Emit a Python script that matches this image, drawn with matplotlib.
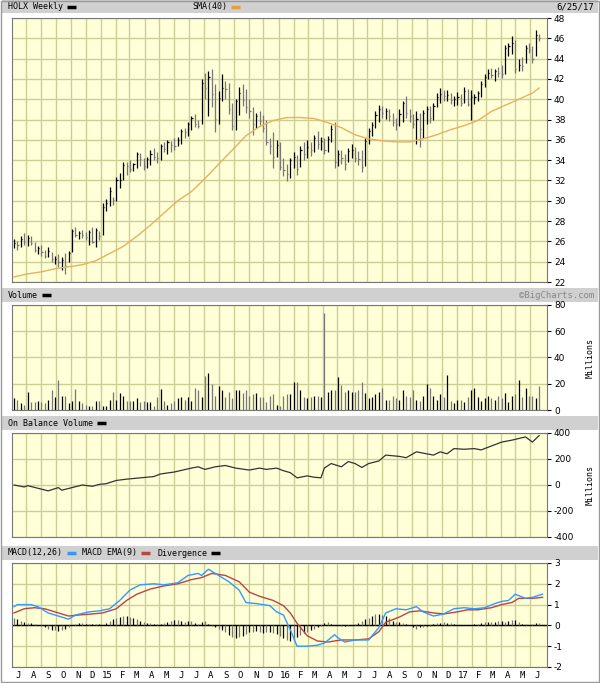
import numpy as np
import pandas as pd
import matplotlib.pyplot as plt

# weekly bars, week 0 = 2014-07-07
price_hlc = [
    (26.2,25.3,25.8),(26.0,25.2,25.6),(26.5,25.4,26.2),(26.8,25.6,25.9),
    (26.6,25.5,26.3),(26.5,25.6,25.8),(25.9,25.0,25.2),(25.5,24.8,25.3),
    (25.6,24.6,25.0),(25.2,24.4,24.6),(25.4,24.5,25.1),(25.0,24.0,24.3),(24.6,23.8,24.3),
    (24.8,23.5,24.0),(24.5,23.2,24.2),(24.9,22.8,23.6),(25.1,24.0,24.9),
    (27.2,25.0,27.0),(27.4,26.4,26.6),(27.0,26.2,26.8),(27.1,26.3,26.6),
    (26.9,26.1,26.4),(27.1,25.6,26.9),(27.4,25.8,25.9),(27.3,25.4,27.1),(27.0,26.1,26.5),
    (29.8,26.6,29.4),(30.2,29.0,29.8),(31.4,29.5,31.0),(30.4,29.6,30.1),
    (32.3,30.0,32.0),(32.7,31.3,32.0),(33.8,32.0,33.5),(33.8,32.5,33.4),
    (34.0,32.8,33.1),(33.7,32.9,33.6),(34.8,33.2,34.6),(34.7,33.4,34.1),(34.2,33.0,33.4),
    (34.3,33.2,34.1),(35.0,33.5,34.6),(35.2,34.0,34.3),(34.8,33.7,34.2),
    (35.6,34.0,35.4),(35.8,34.8,35.1),(36.0,34.6,35.8),(35.9,34.8,35.5),
    (36.2,35.0,35.4),(36.3,35.4,36.0),(37.1,35.6,36.9),(37.2,36.2,36.8),(37.8,36.4,37.6),
    (38.3,37.0,38.2),(38.5,37.3,37.6),(38.0,37.2,37.4),(42.0,37.6,41.6),
    (42.6,40.0,41.1),(42.8,38.3,42.2),(43.0,39.2,40.5),(41.5,36.8,38.1),(40.8,37.6,40.1),
    (42.5,39.8,41.1),(41.8,40.0,41.0),(41.6,38.5,39.0),(39.6,37.0,37.4),
    (40.0,37.0,39.8),(41.2,38.4,40.6),(41.5,39.3,39.9),(41.0,38.6,39.2),
    (40.0,38.2,38.8),(39.2,36.5,37.6),(38.6,37.2,38.3),(38.8,37.5,37.9),(38.4,36.8,37.2),
    (38.0,35.5,35.8),(36.2,34.6,35.4),(36.8,33.2,34.3),(36.0,34.3,35.5),
    (35.8,33.0,33.3),(34.2,32.4,33.0),(33.6,31.9,32.6),(34.2,32.2,34.0),
    (34.8,33.2,34.3),(34.5,32.5,33.1),(35.4,33.3,35.0),(35.8,34.0,34.6),(36.0,34.2,35.3),
    (35.8,34.4,35.0),(36.5,34.8,36.2),(36.9,35.1,35.6),(36.3,35.0,35.9),
    (36.2,34.6,35.0),(36.4,34.8,36.1),(37.5,35.8,37.1),(37.8,33.2,33.8),
    (35.0,33.4,34.6),(35.0,33.6,34.2),(34.6,33.0,33.6),(35.2,33.8,34.9),(35.6,34.2,35.0),
    (35.3,33.8,34.2),(34.9,33.5,34.1),(35.0,32.8,33.3),(36.2,33.4,35.9),
    (37.2,35.6,36.9),(37.8,36.4,37.5),(38.8,37.2,38.4),(39.4,37.8,39.0),
    (39.3,38.2,38.6),(39.1,38.1,38.8),(39.0,37.9,38.3),(38.6,37.4,37.8),(38.2,37.0,37.6),
    (39.0,37.4,38.5),(39.8,37.8,39.6),(40.3,38.2,38.6),(39.0,37.8,38.3),
    (38.5,37.2,37.6),(38.8,35.6,38.1),(38.6,35.3,37.1),(38.9,36.2,38.6),(39.3,37.6,39.0),
    (39.3,37.7,38.2),(39.6,38.0,39.3),(40.6,39.2,40.2),(41.1,39.6,40.5),
    (40.9,39.8,40.3),(40.9,39.8,40.4),(40.6,39.5,39.9),(40.3,39.3,40.0),
    (40.7,39.4,40.2),(40.5,39.3,39.6),(41.2,39.6,40.8),(41.0,39.3,39.5),(40.9,38.0,40.2),
    (40.5,39.5,40.2),(40.8,39.8,40.6),(41.8,40.2,41.5),(42.5,41.2,42.2),
    (43.0,42.0,42.6),(43.1,42.1,42.4),(43.0,41.8,42.8),(43.2,42.2,42.6),
    (43.4,42.1,42.5),(45.3,42.5,45.0),(45.5,44.3,45.2),(46.2,44.5,45.5),
    (45.8,42.6,43.0),(44.0,42.8,43.4),(44.2,42.8,43.3),(45.3,43.6,45.0),(45.5,44.6,44.8),
    (45.2,43.6,44.0),(46.8,44.3,46.3),(46.4,45.7,46.0),
]

sma_weeks = [0,4,8,12,16,20,24,28,32,36,40,44,48,52,56,60,64,68,72,76,80,84,88,92,
             96,100,104,108,112,116,120,124,128,132,136,140,144,148,152,154]
sma_vals = [22.5,22.8,23.0,23.3,23.5,23.7,24.1,24.8,25.5,26.5,27.6,28.8,30.0,30.9,32.2,
            33.6,35.0,36.4,37.3,37.9,38.2,38.2,38.1,37.7,37.2,36.5,36.1,35.9,35.8,35.8,
            36.1,36.5,37.0,37.4,37.9,38.8,39.4,40.0,40.6,41.1]

volume = [9,8,5,4,14,6,6,7,6,5, 8,15,10,23,11,11,5,7,16,7, 5,4,3,3,7,7,3,3,8,14,
          8,13,11,7,7,7,9,6,7,6, 6,3,10,16,7,4,5,7,9,10, 8,10,7,17,15,10,26,28,20,11,
          18,15,10,14,9,15,15,13,15,11, 12,13,10,10,6,11,12,4,3,11, 12,12,21,21,15,10,9,10,11,11,
          10,74,14,15,15,25,19,14,15,14, 14,15,21,13,9,10,12,14,17,8, 8,11,9,8,15,11,10,15,8,7,
          11,20,17,11,8,12,10,27,7,5, 8,8,6,10,15,17,10,7,9,11, 9,8,11,9,13,6,11,12,23,10,
          17,11,11,9,18]

obv_weeks = [0,3,4,7,10,13,14,17,20,23,25,27,30,33,37,41,43,47,52,54,56,59,62,65,69,72,74,
             77,79,81,83,86,88,90,91,93,96,98,100,102,104,107,109,113,115,118,120,123,125,
             127,129,132,135,137,140,143,146,150,152,154]
obv_vals = [0,-15,-5,-25,-45,-20,-40,-20,0,-10,5,10,35,45,55,65,85,100,130,140,120,140,150,
            130,115,130,120,130,110,95,55,70,60,55,130,165,140,180,165,135,165,185,230,220,
            210,255,245,230,255,240,280,275,280,270,300,330,345,370,330,380]

macd_weeks = [0,1,5,7,10,14,16,18,22,25,28,31,34,37,41,44,48,51,54,55,57,60,63,66,68,71,
              75,77,79,81,83,86,89,91,94,95,97,100,104,107,109,112,115,118,120,123,126,129,
              132,135,138,141,143,145,147,150,152,155]
macd_vals = [0.9,1.0,1.0,0.9,0.6,0.4,0.3,0.5,0.65,0.7,0.8,1.2,1.7,1.95,2.0,1.95,2.05,2.4,
             2.5,2.4,2.7,2.4,2.1,1.7,1.1,1.05,0.95,0.65,0.5,-0.2,-1.0,-1.0,-0.95,-0.85,-0.45,
             -0.6,-0.8,-0.7,-0.7,-0.1,0.6,0.8,0.75,0.9,0.65,0.45,0.55,0.8,0.85,0.8,0.85,1.05,
             1.15,1.2,1.5,1.3,1.35,1.5]
signal_weeks = [0,3,6,9,13,16,19,23,26,30,33,36,40,44,48,52,55,58,62,66,69,72,76,79,81,83,
                86,89,92,96,100,104,107,109,113,116,119,123,126,130,133,136,140,143,146,148,152,155]
signal_vals = [0.6,0.8,0.85,0.8,0.6,0.45,0.5,0.55,0.6,0.8,1.2,1.5,1.75,1.9,2.0,2.2,2.3,2.5,
               2.4,2.1,1.6,1.4,1.2,0.95,0.6,0.1,-0.5,-0.75,-0.8,-0.7,-0.7,-0.65,-0.3,0.15,
               0.4,0.65,0.7,0.6,0.55,0.65,0.75,0.75,0.85,1.0,1.1,1.3,1.3,1.35]
divergence = [0.35,0.3,0.2,0.15, 0.12,0.1,0.05,0, -0.05,-0.1,-0.15,-0.2, -0.2,-0.25,-0.2,-0.15,
              -0.1,0,0.05,0.1, 0.1,0.08,0.05,0.05, 0.05,0.05,0.02,0.1, 0.2,0.3,0.35,0.4,
              0.45,0.45,0.4,0.35, 0.3,0.2,0.15,0.1, 0.1,0.05,0.05,0.05, 0.1,0.15,0.2,0.25,
              0.25,0.2,0.15,0.2, 0.2,0.1,0.05,0.15, 0.2,0.05,-0.05,-0.1, -0.15,-0.2,-0.3,-0.45,
              -0.55,-0.6,-0.55,-0.5, -0.4,-0.3,-0.3,-0.25, -0.3,-0.35,-0.3,-0.3, -0.35,-0.4,-0.5,-0.6,
              -0.7,-0.75,-0.7,-0.55, -0.45,-0.35,-0.3,-0.2, -0.15,-0.1,-0.05,0.1, 0.15,0.05,0,0.02,
              -0.05,-0.05,-0.03,0, 0.05,0.1,0.2,0.3, 0.35,0.45,0.55,0.55, 0.5,0.45,0.35,0.2,
              0.15,0.15,0.1,0.05, 0,-0.1,-0.15,-0.1, -0.1,-0.05,-0.05,0.05, 0.1,0.1,0.15,0.1,
              0.1,0.05,0.03,0.02, 0,0,0.02,0.05, 0.05,0.1,0.15,0.15, 0.15,0.15,0.2,0.2,
              0.15,0.2,0.25,0.25, 0.15,0.05,0.05,0.02, 0.05,0.1,0.12]

month_labels = ['J','A','S','O','N','D','15','F','M','A','M','J','J','A','S','O','N','D',
                '16','F','M','A','M','J','J','A','S','O','N','D','17','F','M','A','M','J']

W, H = 600, 683
FACE = '#ffffd8'
GRID = '#cdcd96'
HEAD = '#d0d0d0'
start = pd.Timestamp('2014-07-07')

def wk(d):
    return (pd.Timestamp(d) - start).days / 7.0

fig = plt.figure(figsize=(W / 100, H / 100), dpi=100)
fig.patch.set_facecolor('white')

def rect(x0, y0, x1, y1):
    return [x0 / W, 1 - y1 / H, (x1 - x0) / W, (y1 - y0) / H]

def header(y0, y1, items, right=None, right_col='black'):
    hx = fig.add_axes(rect(2, y0, 598, y1))
    hx.set_facecolor(HEAD)
    hx.set_xticks([]); hx.set_yticks([])
    for s in hx.spines.values():
        s.set_visible(False)
    hx.set_xlim(0, 596); hx.set_ylim(0, 1)
    for x, txt, col in items:
        hx.text(x, 0.5, txt, fontsize=6, family='DejaVu Sans Mono', va='center')
        tw = len(txt) * 5.0
        hx.plot([x + tw + 4, x + tw + 13], [0.5, 0.5], color=col, lw=2.5,
                solid_capstyle='butt')
    if right:
        hx.text(592, 0.5, right, fontsize=6.5, family='DejaVu Sans Mono',
                va='center', ha='right', color=right_col)
    return hx

month_starts = pd.date_range('2014-08-01', '2017-06-01', freq='MS')
mid_months = pd.date_range('2014-07-01', '2017-06-01', freq='MS') + pd.Timedelta(days=14)
weeks = np.arange(len(price_hlc))
xl = (-0.6, 156.3)

def panel(y0, y1, yt, ylim, millions=False):
    ax = fig.add_axes(rect(12, y0, 547, y1))
    ax.set_facecolor(FACE)
    ax.set_xlim(*xl); ax.set_ylim(*ylim)
    for m in month_starts:
        ax.axvline(wk(m), color=GRID, lw=1.0, zorder=0)
    for t in yt:
        ax.axhline(t, color=GRID, lw=1.0, zorder=0)
    ax.yaxis.tick_right()
    ax.set_yticks(yt)
    ax.set_yticklabels([str(t) for t in yt], fontsize=6.5)
    ax.tick_params(axis='y', length=3, pad=2)
    ax.set_xticks([])
    for s in ax.spines.values():
        s.set_color('#777777'); s.set_linewidth(0.8)
    if millions:
        fig.text(590 / W, 1 - (y0 + y1) / 2 / H, 'Millions', rotation=90, fontsize=6,
                 family='DejaVu Sans Mono', ha='center', va='center')
    return ax

# price
header(0, 13, [(6, 'HOLX Weekly', 'black'), (190, 'SMA(40)', '#e0a040')], right='6/25/17')
ax1 = panel(18, 282, list(range(22, 49, 2)), (22, 48))
closes = [c for _, _, c in price_hlc]
for i, (h, l, c) in enumerate(price_hlc):
    col = 'black' if i == 0 or c >= closes[i - 1] else '#777777'
    ax1.vlines(i, l, h, color=col, lw=0.9)
    ax1.hlines(c, i, i + 0.35, color=col, lw=0.9)
ax1.plot(sma_weeks, sma_vals, color='#e8b060', lw=1.0)

# volume
header(288, 302, [(6, 'Volume', 'black')], right='©BigCharts.com', right_col='#888888')
ax2 = panel(305, 410, [0, 20, 40, 60, 80], (0, 80), millions=True)
vcols = ['black' if i == 0 or closes[i] >= closes[i - 1] else '#777777' for i in weeks]
ax2.vlines(weeks, 0, volume, colors=vcols, lw=0.9)

# OBV
header(416, 430, [(6, 'On Balance Volume', 'black')])
ax3 = panel(433, 537, [-400, -200, 0, 200, 400], (-400, 400), millions=True)
ax3.plot(obv_weeks, obv_vals, color='#333333', lw=0.9)

# MACD
header(546, 560, [(6, 'MACD(12,26)', '#3399ff'), (80, 'MACD EMA(9)', '#bb4444'),
                  (155, 'Divergence', 'black')])
ax4 = panel(563, 667, [-2, -1, 0, 1, 2, 3], (-2, 3))
ax4.axhline(0, color='black', lw=1.0)
ax4.vlines(weeks, 0, divergence, colors=['black' if i % 2 else '#777777' for i in weeks], lw=0.9)
ax4.plot(signal_weeks, signal_vals, color='#bb4444', lw=1.0)
ax4.plot(macd_weeks, macd_vals, color='#3399ff', lw=1.0)
ax4.set_xticks([wk(m) for m in mid_months])
ax4.set_xticklabels(month_labels, fontsize=6.5, family='DejaVu Sans Mono')
ax4.tick_params(axis='x', length=0, pad=3)

# outer frame
fig.add_artist(plt.Rectangle((0.002, 0.002), 0.996, 0.996, transform=fig.transFigure,
                             fill=False, ec='#999999', lw=1))

fig.savefig('out.png', dpi=100)
